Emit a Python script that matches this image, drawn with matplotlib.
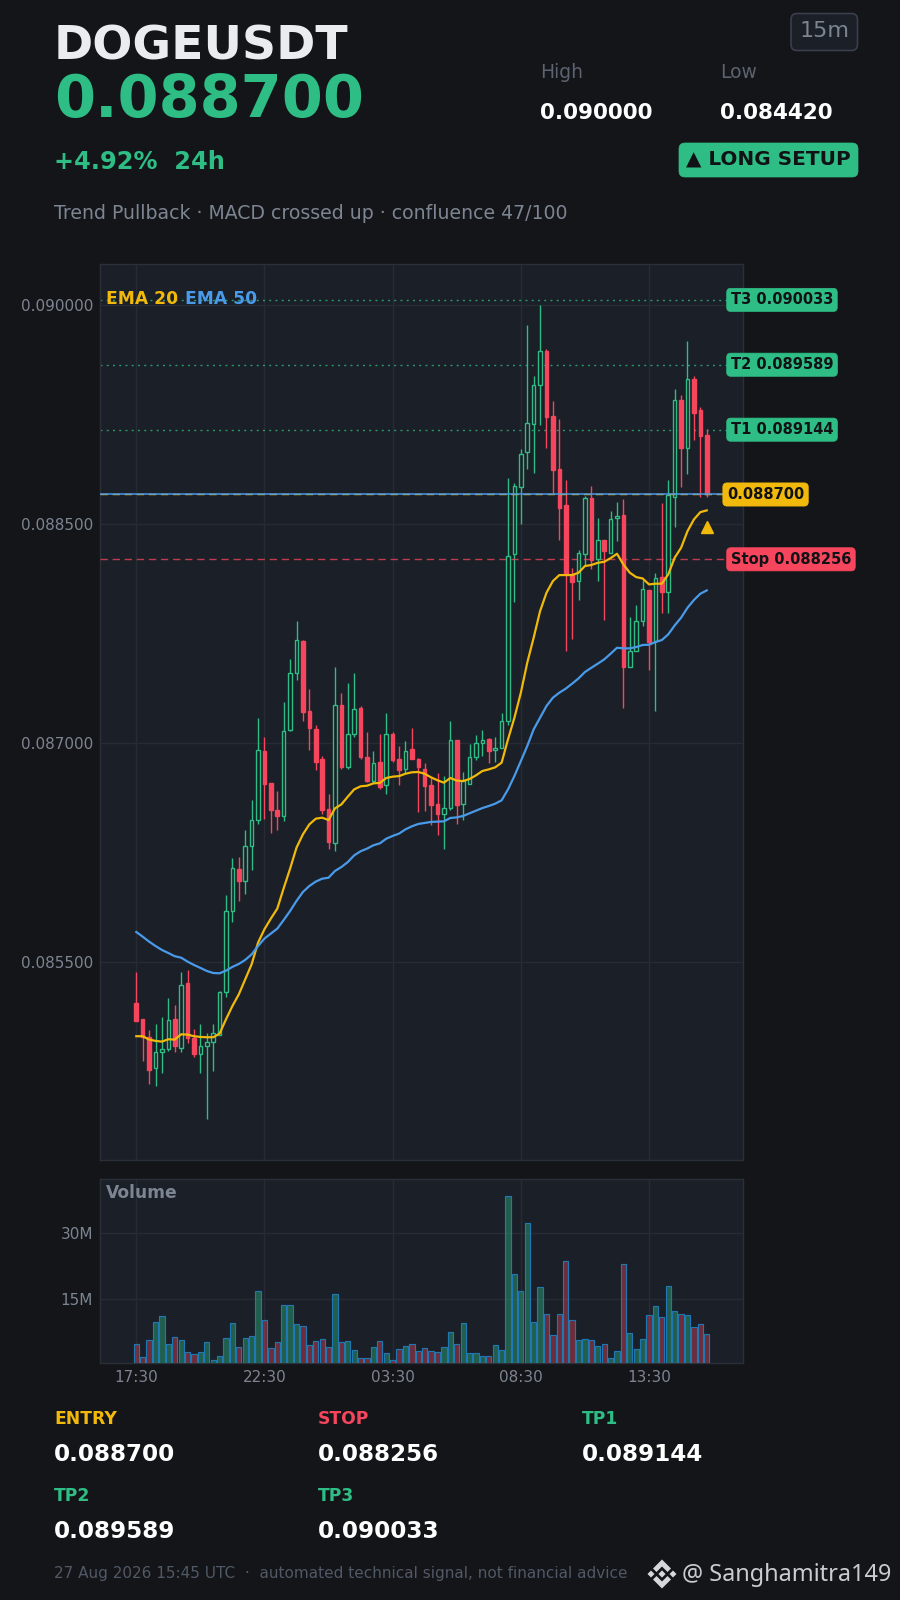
import matplotlib
matplotlib.use("Agg")
import matplotlib.pyplot as plt
from matplotlib.patches import FancyBboxPatch, Polygon
from matplotlib.transforms import blended_transform_factory

plt.rcParams['font.family'] = ['DejaVu Sans']

BG = '#131518'; PANEL = '#1b1f27'; GRID = '#272b33'; SPINE = '#2b2f38'
GREEN = '#2ebd85'; RED = '#f6465d'; GOLD = '#f0b90b'; BLUE = '#4a9aea'
MUTED = '#7d8592'; DIM = '#5b6270'; WHITE = '#ffffff'

symbol = 'DOGEUSDT'
price_text = '0.088700'
change_text = '+4.92%  24h'
subtitle = 'Trend Pullback · MACD crossed up · confluence 47/100'
high_text, low_text = '0.090000', '0.084420'
footer = '27 Aug 2026 15:45 UTC  ·  automated technical signal, not financial advice'
watermark = '@ Sanghamitra149'

# prices in millionths
opens = [85215,85105,84984,84774,84881,84902,85105,84909,85352,84977,
         84868,84923,84950,84998,85295,85849,86132,86052,86294,86472,
         86945,86721,86536,86498,87089,87479,87694,87219,87091,86886,
         86543,86315,87260,86833,87061,87235,86904,86737,86870,86712,
         87057,86886,86822,86954,86886,86822,86708,86577,86511,86552,
         87016,86580,86719,86904,87000,87023,86950,86963,87150,88294,
         88753,88993,89184,89452,89684,89235,88872,88625,88153,88107,
         88294,88673,88260,88385,88299,88538,88557,87520,87630,87833,
         88043,87696,88132,88031,88684,89344,89018,89493,89276,89109]
highs = [85429,85110,85032,85073,85121,85251,85203,85429,85443,85039,
         85073,85012,85073,85299,85954,86210,86217,86402,86607,87169,
         87036,86721,86669,87278,87575,87833,87703,87367,87123,86908,
         86648,87518,87342,87408,87477,87251,87073,86943,87061,87203,
         87073,86977,87011,87100,86893,86863,86760,86794,86772,87148,
         87016,86799,86991,87055,87087,87034,87039,87205,88810,88778,
         89009,89858,89511,90000,89696,89340,89214,88799,88198,88319,
         88689,88758,88538,88385,88586,88650,88666,87860,87942,88114,
         88043,88164,88639,88799,89422,89381,89751,89511,89299,89146]
lows = [85094,84822,84664,84651,84740,84888,84881,84881,84945,84849,
        84740,84420,84751,84998,85260,85774,85916,85961,86130,86445,
        86479,86383,86404,86466,87082,87431,87150,86952,86815,86511,
        86274,86260,86822,86822,87041,86888,86730,86726,86685,86651,
        86867,86712,86794,86886,86523,86534,86434,86367,86269,86539,
        86445,86472,86719,86883,86909,86861,86870,86963,87123,87961,
        88500,88872,88849,89173,89020,88712,88385,87625,87707,87979,
        88210,88191,88109,87842,88299,88383,87235,87520,87625,87801,
        87497,87219,87890,87890,88479,88753,88842,89075,88684,88684]
closes = [85094,84984,84756,84884,84904,85103,84923,85343,84977,84868,
          84923,84950,85012,85295,85849,86144,86050,86294,86472,86952,
          86717,86539,86495,87082,87479,87705,87210,87100,86867,86536,
          86319,87260,86831,87061,87233,86902,86737,86863,86698,87061,
          86879,86810,86945,86886,86831,86703,86571,86509,86555,87020,
          86573,86737,86904,87000,87020,86940,86966,87150,88280,88760,
          88979,89191,89452,89684,89230,88867,88607,88153,88100,88301,
          88673,88248,88390,88312,88534,88554,87518,87630,87835,88054,
          87689,88130,88031,88694,89349,89018,89493,89257,89100,88700]
ema20 = [84989,84989,84966,84957,84952,84968,84966,85002,85000,84989,
         84984,84982,84982,85007,85105,85196,85276,85379,85482,85630,
         85722,85795,85863,86003,86137,86281,86372,86440,86479,86486,
         86470,86550,86577,86630,86680,86701,86705,86721,86724,86758,
         86767,86771,86787,86797,86799,86787,86762,86742,86726,86758,
         86740,86737,86751,86776,86806,86817,86831,86863,87023,87171,
         87342,87548,87719,87901,88027,88107,88148,88148,88148,88164,
         88210,88217,88232,88239,88264,88294,88221,88164,88134,88125,
         88084,88089,88089,88153,88267,88335,88449,88529,88579,88591]
ema50 = [85703,85671,85637,85607,85580,85559,85537,85527,85500,85477,
         85457,85436,85422,85420,85438,85464,85484,85512,85550,85607,
         85658,85692,85726,85785,85847,85916,85977,86018,86048,86068,
         86075,86121,86148,86182,86228,86256,86274,86297,86310,86342,
         86361,86377,86406,86427,86443,86450,86457,86459,86461,86484,
         86488,86498,86516,86534,86552,86566,86582,86605,86680,86772,
         86874,86977,87091,87171,87251,87308,87342,87370,87404,87440,
         87484,87513,87541,87570,87609,87650,87646,87646,87655,87669,
         87671,87689,87703,87742,87803,87856,87924,87977,88020,88043]
volumes = [4.77,1.97,5.68,9.77,11.14,4.77,6.36,5.68,2.95,2.50,
           2.95,5.23,1.14,2.05,6.14,9.55,4.09,6.14,6.59,16.82,
           10.23,3.86,5.23,13.64,13.64,9.32,8.86,4.55,5.45,5.91,
           4.09,16.14,5.23,5.45,3.41,1.59,1.59,4.09,5.45,2.73,
           1.14,3.64,4.32,4.77,3.18,3.86,3.18,2.95,4.09,7.50,
           4.77,9.55,2.73,2.73,2.05,2.05,4.55,3.41,38.41,20.68,
           16.82,32.27,9.77,17.73,11.59,6.82,11.59,23.64,10.23,5.68,
           5.91,5.68,4.32,4.77,1.59,3.18,22.95,7.27,3.64,5.91,
           11.36,13.41,10.91,17.95,12.27,11.59,11.36,8.64,9.32,7.05]

time_ticks = [0, 20, 40, 60, 80]
time_labels = ['17:30', '22:30', '03:30', '08:30', '13:30']
price_ticks = [0.0855, 0.087, 0.0885, 0.090]
vol_ticks = [15, 30]
entry, stop = 0.088700, 0.088256
targets = [('T1', 0.089144), ('T2', 0.089589), ('T3', 0.090033)]
signal_price = 0.088479

W, H = 900, 1600
fig = plt.figure(figsize=(9, 16), dpi=100, facecolor=BG)
over = fig.add_axes([0, 0, 1, 1], zorder=0)
over.set_xlim(0, W); over.set_ylim(H, 0); over.axis('off')

def rect(l, t, r, b):
    return [l / W, 1 - b / H, (r - l) / W, (b - t) / H]

ax = fig.add_axes(rect(100, 264, 743, 1160), facecolor=PANEL, zorder=2)
vx = fig.add_axes(rect(100, 1179, 743, 1363.3), facecolor=PANEL, zorder=2)

n = len(closes)
xs = list(range(n))
o = [v / 1e6 for v in opens]; h = [v / 1e6 for v in highs]
l = [v / 1e6 for v in lows]; c = [v / 1e6 for v in closes]
up = [a >= b for a, b in zip(closes, opens)]
cols = [GREEN if u else RED for u in up]

for a in (ax, vx):
    a.set_xlim(-5.66, 94.66)
    a.grid(True, color=GRID, lw=1)
    a.set_axisbelow(True)
    for s in a.spines.values():
        s.set_color(SPINE); s.set_linewidth(1)
    a.set_xticks(time_ticks)
    a.tick_params(length=0, colors=MUTED, labelsize=11, pad=5)

ax.set_ylim(0.084141, 0.090279)
ax.set_yticks(price_ticks)
ax.set_yticklabels([f'{p:.6f}' for p in price_ticks])
ax.set_xticklabels([])

ax.vlines(xs, l, h, colors=cols, lw=1.0, zorder=3)
bottoms = [min(a, b) for a, b in zip(o, c)]
heights = [abs(a - b) for a, b in zip(o, c)]
ax.bar(xs, heights, bottom=bottoms, width=0.56,
       facecolor=[PANEL if u else RED for u in up], edgecolor=cols, linewidth=1.0, zorder=4)

for _, t in targets:
    ax.axhline(t, color=GREEN, lw=1, alpha=0.8, dashes=(1.4, 3.1), zorder=2.5)
ax.axhline(stop, color=RED, lw=1, alpha=0.75, dashes=(5.3, 3.4), zorder=3.5)
ax.axhline(entry, color=GOLD, lw=1, dashes=(5.3, 3.4), zorder=5)
ax.axhline(entry, color=BLUE, lw=1.2, alpha=0.9, zorder=5.1)

ax.plot(xs, [v / 1e6 for v in ema20], color=GOLD, lw=1.6, zorder=6)
ax.plot(xs, [v / 1e6 for v in ema50], color=BLUE, lw=1.6, zorder=6)
ax.plot([xs[-1]], [signal_price], marker='^', ms=9, color=GOLD, ls='none', zorder=7)

ax.text(0.0095, 0.9605, 'EMA 20', color=GOLD, fontsize=12.3, fontweight='bold',
        transform=ax.transAxes, va='center', zorder=8)
ax.text(0.1325, 0.9605, 'EMA 50', color=BLUE, fontsize=12.3, fontweight='bold',
        transform=ax.transAxes, va='center', zorder=8)

tr = blended_transform_factory(ax.transAxes, ax.transData)
def tag(x, y, text, col):
    ax.text(x, y, text, transform=tr, color='#101215', fontsize=10.5, fontweight='bold',
            va='center', ha='left', clip_on=False, zorder=9,
            bbox=dict(boxstyle='round,pad=0.28', fc=col, ec=col, lw=0.5))
for name, t in targets:
    tag(0.981, t, f'{name} {t:.6f}', GREEN)
tag(0.981, stop, f'Stop {stop:.6f}', RED)
tag(0.975, entry, f'{entry:.6f}', GOLD)

fills = [(46/255, 189/255, 133/255, 0.4) if u else (246/255, 70/255, 93/255, 0.38) for u in up]
vx.bar(xs, volumes, width=0.82, color=fills, edgecolor='#1f77b4', linewidth=0.85, zorder=3)
vx.set_ylim(0.45, 42.3)
vx.set_yticks(vol_ticks)
vx.set_yticklabels([f'{v}M' for v in vol_ticks])
vx.set_xticklabels(time_labels)
vx.text(0.0085, 0.925, 'Volume', color=MUTED, fontsize=12.3, fontweight='bold',
        transform=vx.transAxes, va='center', zorder=5)

def T(x, y, s, col, size, bold=True, ha='left', **kw):
    over.text(x, y, s, color=col, fontsize=size, fontweight='bold' if bold else 'normal',
              ha=ha, va='baseline', **kw)

T(54, 59, symbol, '#eaecef', 34)
T(54, 117, price_text, GREEN, 42.5)
T(54, 169, change_text, GREEN, 17.3)
T(54, 219, subtitle, MUTED, 13.6, bold=False)
T(540, 78, 'High', DIM, 13.5, bold=False)
T(720, 78, 'Low', DIM, 13.5, bold=False)
T(540, 119, high_text, WHITE, 15.5)
T(720, 119, low_text, WHITE, 15.5)

over.add_patch(FancyBboxPatch((794, 16.5), 60.5, 31, boxstyle='round,pad=3,rounding_size=6',
                              fc=PANEL, ec='#3a3f4b', lw=1.2))
T(824.5, 37, '15m', MUTED, 16, bold=False, ha='center')
over.add_patch(FancyBboxPatch((682, 146), 173, 28, boxstyle='round,pad=3,rounding_size=6',
                              fc=GREEN, ec=GREEN, lw=0.5))
T(768, 164.5, '▲ LONG SETUP', '#101215', 14.4, ha='center')

rows = [(54, 1424.5, 1461, 'ENTRY', f'{entry:.6f}', GOLD),
        (318, 1424.5, 1461, 'STOP', f'{stop:.6f}', RED),
        (582, 1424.5, 1461, 'TP1', f'{targets[0][1]:.6f}', GREEN),
        (54, 1501, 1538, 'TP2', f'{targets[1][1]:.6f}', GREEN),
        (318, 1501, 1538, 'TP3', f'{targets[2][1]:.6f}', GREEN)]
for x, y1, y2, lab, val, col in rows:
    T(x, y1, lab, col, 12.3)
    T(x, y2, val, WHITE, 16.6)

T(54, 1578, footer, '#515866', 11, bold=False)

# exchange-style logo
cx, cy = 662, 1574
logo = '#d4d7dc'
pieces = [
    [(0, -3.6), (3.6, 0), (0, 3.6), (-3.6, 0)],
    [(-14.5, 0), (-11, -3.5), (-7.5, 0), (-11, 3.5)],
    [(14.5, 0), (11, -3.5), (7.5, 0), (11, 3.5)],
    [(0, -14.5), (9, -5.5), (5.5, -2), (0, -7.5), (-5.5, -2), (-9, -5.5)],
    [(0, 14.5), (9, 5.5), (5.5, 2), (0, 7.5), (-5.5, 2), (-9, 5.5)],
]
for pts in pieces:
    over.add_patch(Polygon([(cx + a, cy + b) for a, b in pts], closed=True, fc=logo, ec='none'))
over.text(682, 1581, watermark, color='#c9ccd2', fontsize=16.9, family='Noto Sans', va='baseline')

fig.savefig('out.png', dpi=100, facecolor=BG)
